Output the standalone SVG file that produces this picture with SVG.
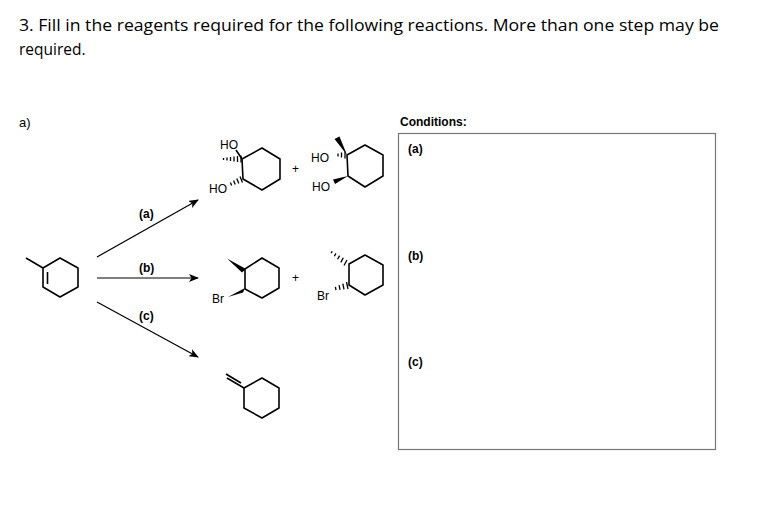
<svg xmlns="http://www.w3.org/2000/svg" width="781" height="525" viewBox="0 0 781 525">
<style>
.t{font-family:"Liberation Sans",Arial,sans-serif;fill:#000}
.q{font-family:"Open Sans","Liberation Sans",sans-serif;font-size:15.5px}
.b{font-size:12px;font-weight:bold}
.s{font-size:12px}
.bd{fill:none;stroke:#000;stroke-width:1.6;stroke-linejoin:round}
.hs{stroke:#000;stroke-width:1.3}
.ar{stroke:#000;stroke-width:1.2;fill:none}
</style>
<defs>
<marker id="ah" markerWidth="10" markerHeight="8" refX="9" refY="4" orient="auto" markerUnits="userSpaceOnUse">
<path d="M0,0 L10,4 L0,8 L2.5,4 Z" fill="#000"/>
</marker>
</defs>
<rect width="781" height="525" fill="#fff"/>
<text class="t q" x="19" y="31" textLength="700" lengthAdjust="spacingAndGlyphs">3. Fill in the reagents required for the following reactions. More than one step may be</text>
<text class="t q" x="19" y="55">required.</text>
<text class="t" x="19" y="127" font-size="13">a)</text>

<g id="start">
<polygon class="bd" points="43,268 60,258 78,268 78,287 60,297 43,287"/>
<line class="bd" x1="43" y1="268" x2="26" y2="258"/>
<line class="bd" x1="47.5" y1="272" x2="47.5" y2="284"/>
</g>

<g id="connectors">
<line class="ar" x1="97" y1="257" x2="198" y2="200" marker-end="url(#ah)"/>
<line class="ar" x1="97" y1="278" x2="198" y2="278" marker-end="url(#ah)"/>
<line class="ar" x1="97" y1="302" x2="198" y2="357" marker-end="url(#ah)"/>
<text class="t b" x="139" y="218">(a)</text>
<text class="t b" x="139" y="272">(b)</text>
<text class="t b" x="139" y="320">(c)</text>
</g>

<g id="diol1">
<polygon class="bd" points="242,159 262,148 280,159 280,179 262,190 243,179"/>
<line class="bd" x1="242" y1="159" x2="236" y2="150"/>
<text class="t s" x="220" y="149">HO</text>
<g class="hs">
<line x1="241" y1="155.5" x2="241" y2="162.5"/>
<line x1="237.5" y1="156" x2="237.5" y2="162"/>
<line x1="234" y1="156.5" x2="234" y2="161.5"/>
<line x1="230.5" y1="157" x2="230.5" y2="161"/>
<line x1="227" y1="157.5" x2="227" y2="160.5"/>
<line x1="223.5" y1="158" x2="223.5" y2="160"/>
<line x1="240" y1="176.5" x2="242.5" y2="182.5"/>
<line x1="236.8" y1="178.5" x2="238.8" y2="183.5"/>
<line x1="233.6" y1="180.5" x2="235.2" y2="184.5"/>
<line x1="230.4" y1="182.5" x2="231.6" y2="185.5"/>
</g>
<text class="t s" x="209" y="193">HO</text>
</g>

<text class="t s" x="292" y="173">+</text>

<g id="diol2">
<polygon class="bd" points="347,155 365,145 383,155 383,176 365,187 348,176"/>
<polygon points="347,155 334.5,139 339.5,136.5" fill="#000"/>
<text class="t s" x="311" y="162">HO</text>
<g class="hs">
<line x1="345" y1="151.5" x2="345" y2="158.5"/>
<line x1="341.5" y1="152.5" x2="341.5" y2="157.5"/>
<line x1="338" y1="153.5" x2="338" y2="156.5"/>
</g>
<polygon points="348,176 333,179.5 335,184" fill="#000"/>
<text class="t s" x="312" y="191">HO</text>
</g>

<g id="bromo1">
<polygon class="bd" points="245,269 262,258 279,268 279,288 262,298 245,289"/>
<polygon points="246,269 242,272.5 227,258.5" fill="#000"/>
<polygon points="245,288 243,292.5 228,297" fill="#000"/>
<text class="t s" x="212" y="303">Br</text>
</g>

<text class="t s" x="292" y="282">+</text>

<g id="bromo2">
<polygon class="bd" points="349,264 365,255 383,265 383,285 365,295 349,285"/>
<g class="hs">
<line x1="347" y1="260" x2="344" y2="265.5"/>
<line x1="343.3" y1="257.8" x2="340.8" y2="262.4"/>
<line x1="339.6" y1="255.6" x2="337.6" y2="259.3"/>
<line x1="335.9" y1="253.4" x2="334.4" y2="256.2"/>
<line x1="332.2" y1="251.2" x2="331.2" y2="253.1"/>
<line x1="346.5" y1="282" x2="348" y2="289"/>
<line x1="342.8" y1="283.6" x2="344" y2="289.4"/>
<line x1="339.1" y1="285.2" x2="340" y2="289.8"/>
<line x1="335.4" y1="286.8" x2="336" y2="290.2"/>
</g>
<text class="t s" x="317" y="300">Br</text>
</g>

<g id="methylene">
<polygon class="bd" points="244,388 262,378 279,388 279,408 262,418 244,408"/>
<line class="bd" x1="244" y1="388" x2="227" y2="378"/>
<line class="bd" x1="241" y1="383" x2="226" y2="374"/>
</g>

<g id="conditions">
<text class="t b" x="400" y="126">Conditions:</text>
<rect x="398.5" y="133.5" width="317" height="316" fill="none" stroke="#777" stroke-width="1.2"/>
<text class="t b" x="408" y="153">(a)</text>
<text class="t b" x="408" y="260">(b)</text>
<text class="t b" x="408" y="366">(c)</text>
</g>
</svg>
